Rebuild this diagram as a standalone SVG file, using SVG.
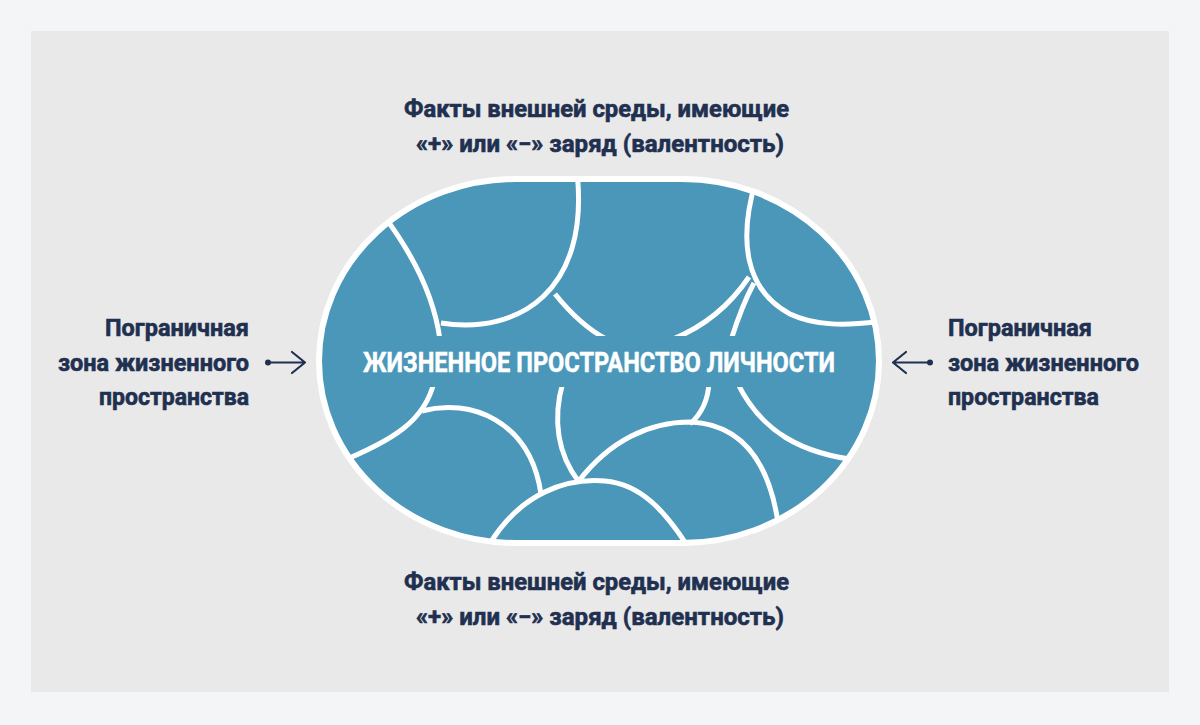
<svg xmlns="http://www.w3.org/2000/svg" width="1200" height="725" viewBox="0 0 1200 725">
  <style>
    .lbl { font-family: "Roboto", "Liberation Sans", sans-serif; font-weight: 700; font-size: 24px; fill: #1f3050; stroke: #1f3050; stroke-width: 0.6; paint-order: stroke; }
    .ctr { font-family: "Roboto", "Liberation Sans", sans-serif; font-weight: 700; font-size: 27px; fill: #ffffff; stroke: #ffffff; stroke-width: 0.5; }
    .ln { fill: none; stroke: #ffffff; stroke-width: 5; stroke-linecap: butt; }
    .arr { fill: none; stroke: #1f3050; stroke-width: 2.2; stroke-linecap: round; stroke-linejoin: round; }
  </style>
  <defs>
    <clipPath id="shapeClip">
      <path d="M 516 179 H 682 A 197 182 0 0 1 682 543 H 516 A 197 182 0 0 1 516 179 Z"/>
    </clipPath>
    <clipPath id="bandClip">
      <rect x="300" y="150" width="600" height="186"/>
      <rect x="300" y="387" width="600" height="180"/>
    </clipPath>
  </defs>

  <rect x="0" y="0" width="1200" height="725" fill="#f4f5f7"/>
  <rect x="31" y="31" width="1138" height="661" fill="#e9e9e9"/>

  <g id="life-space">
    <path d="M 516 179 H 682 A 197 182 0 0 1 682 543 H 516 A 197 182 0 0 1 516 179 Z" fill="#4b97b9" stroke="#ffffff" stroke-width="6"/>
    <g clip-path="url(#shapeClip)">
      <g clip-path="url(#bandClip)">
        <path class="ln" d="M 384 216 Q 432 280 440 340"/>
        <path class="ln" d="M 441 323 C 520 335, 590 290, 577 172"/>
        <path class="ln" d="M 555 294 Q 580 325 606 339"/>
        <path class="ln" d="M 756 180 C 738 240, 745 290, 790 314 C 815 326, 845 326, 885 321"/>
        <path class="ln" d="M 749 277 Q 720 320 673 339"/>
        <path class="ln" d="M 754 283 Q 742 305 731 340"/>
        <path class="ln" d="M 434 382 C 425 420, 395 440, 335 464"/>
        <path class="ln" d="M 422 411 C 470 398, 530 420, 541 494"/>
        <path class="ln" d="M 563 382 C 552 420, 558 455, 579 482"/>
        <path class="ln" d="M 486 550 C 520 490, 570 478, 605 481 C 640 484, 665 510, 690 550"/>
        <path class="ln" d="M 578 482 C 610 440, 650 422, 690 422 C 740 424, 775 460, 781 550"/>
        <path class="ln" d="M 709 382 Q 708 408 690 424"/>
        <path class="ln" d="M 737 382 C 760 430, 800 455, 865 461"/>
      </g>
    </g>
    <text class="ctr" x="363" y="372" textLength="472" lengthAdjust="spacingAndGlyphs">ЖИЗНЕННОЕ ПРОСТРАНСТВО ЛИЧНОСТИ</text>
  </g>

  <g id="facts-top">
    <text class="lbl" x="404" y="116.5" textLength="385" lengthAdjust="spacingAndGlyphs">Факты внешней среды, имеющие</text>
    <text class="lbl" x="416" y="151.5" textLength="368" lengthAdjust="spacingAndGlyphs">«+» или «−» заряд (валентность)</text>
  </g>

  <g id="facts-bottom">
    <text class="lbl" x="404" y="590" textLength="385" lengthAdjust="spacingAndGlyphs">Факты внешней среды, имеющие</text>
    <text class="lbl" x="416" y="625" textLength="368" lengthAdjust="spacingAndGlyphs">«+» или «−» заряд (валентность)</text>
  </g>

  <g id="border-left">
    <text class="lbl" x="105" y="336" textLength="144" lengthAdjust="spacingAndGlyphs">Пограничная</text>
    <text class="lbl" x="58" y="370.5" textLength="191" lengthAdjust="spacingAndGlyphs">зона жизненного</text>
    <text class="lbl" x="99" y="405" textLength="150" lengthAdjust="spacingAndGlyphs">пространства</text>
  </g>

  <g id="border-right">
    <text class="lbl" x="948" y="336" textLength="144" lengthAdjust="spacingAndGlyphs">Пограничная</text>
    <text class="lbl" x="948" y="370.5" textLength="191" lengthAdjust="spacingAndGlyphs">зона жизненного</text>
    <text class="lbl" x="948" y="405" textLength="151" lengthAdjust="spacingAndGlyphs">пространства</text>
  </g>

  <g id="connectors">
    <g id="arrow-left">
      <circle cx="268" cy="362.5" r="3" fill="#1f3050"/>
      <path class="arr" d="M 268 362.5 H 305 M 292 352 L 305 362.5 L 292 373"/>
    </g>
    <g id="arrow-right">
      <circle cx="930" cy="362.5" r="3" fill="#1f3050"/>
      <path class="arr" d="M 930 362.5 H 893 M 906 352 L 893 362.5 L 906 373"/>
    </g>
  </g>
</svg>
